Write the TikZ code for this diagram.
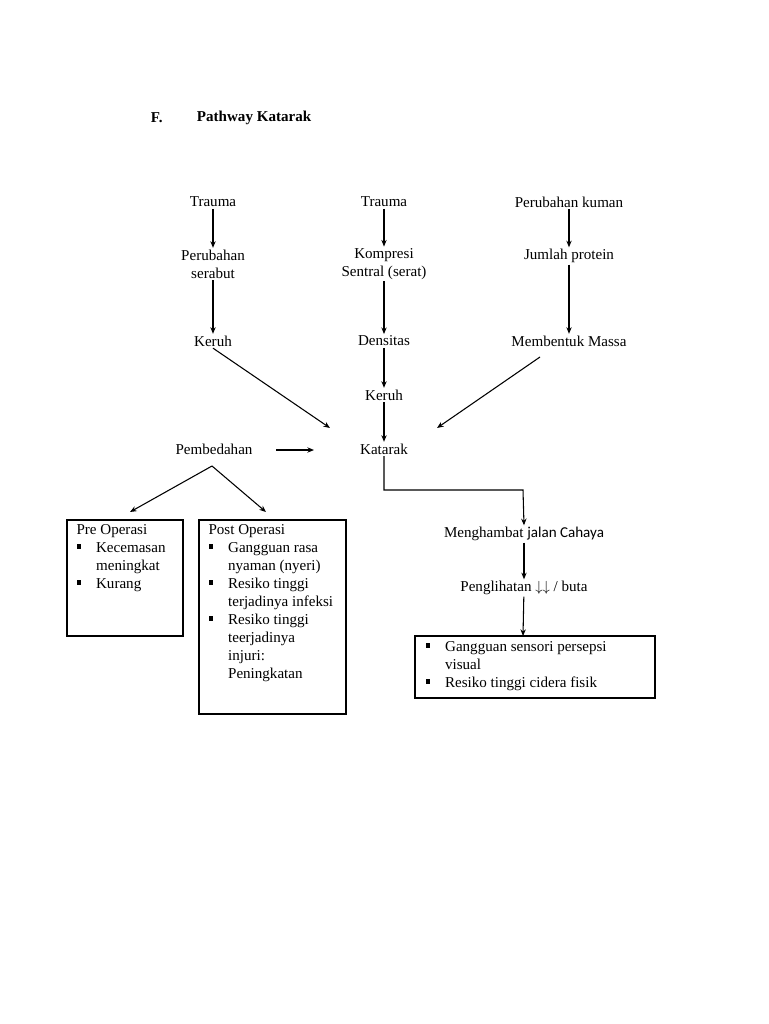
\documentclass[tikz,border=0pt]{standalone}
\usepackage{fontspec}
\setmainfont{Liberation Serif}
\newfontfamily\calib{Carlito}
\usetikzlibrary{arrows.meta}
\newcommand{\bul}{\makebox[1.3em][l]{\rule[0.25em]{3.2pt}{3.2pt}}}
\newcommand{\ind}{\hspace*{1.3em}}
\begin{document}
\begin{tikzpicture}[x=0.75pt,y=-0.75pt,font=\fontsize{11.3}{13.5}\selectfont]
\tikzstyle{every path}=[thick]
\tikzstyle{lbl}=[align=center,inner sep=1pt]
\tikzstyle{arr}=[-{Stealth[length=5pt,width=4pt]}]
\tikzstyle{box}=[draw,thick]
\tikzstyle{boxtext}=[anchor=north west,align=left,inner sep=0pt]
\useasboundingbox (0,0) rectangle (768,1024);
%% Title
\node [anchor=west,font=\fontsize{11.3}{13.5}\bfseries] (ftitle) at (146,118) {F.};
\node [anchor=west,font=\fontsize{11.3}{13.5}\bfseries] (title) at (192,118) {Pathway Katarak};
%% Top rows
\node [lbl] (trauma1) at (213,202) {Trauma};
\node [lbl] (trauma2) at (384,202) {Trauma};
\node [lbl] (kuman) at (569,202) {Perubahan kuman};
\node [lbl] (serabut) at (213,264) {Perubahan\\serabut};
\node [lbl] (kompresi) at (384,264) {Kompresi\\Sentral (serat)};
\node [lbl] (protein) at (569,256) {Jumlah protein};
\node [lbl] (keruh1) at (213,341) {Keruh};
\node [lbl] (densitas) at (384,341) {Densitas};
\node [lbl] (massa) at (569,341) {Membentuk Massa};
\node [lbl] (keruh2) at (384,395) {Keruh};
\node [lbl] (katarak) at (384,449) {Katarak};
\node [lbl] (bedah) at (214,449) {Pembedahan};
\node [lbl] (hambat) at (524,534) {Menghambat {\calib jalan Cahaya}};
\node [lbl] (lihat) at (524,588) {Penglihatan $\downarrow\downarrow$ / buta};
%% Boxes
\draw [box] (67,520) rectangle (183,636);
\coordinate (pre) at (130,512);
\node [boxtext] (pretext) at (76,524) {Pre Operasi\\ \bul Kecemasan\\ \ind meningkat\\ \bul Kurang};
\draw [box] (199,520) rectangle (346,714);
\coordinate (post) at (266,512);
\node [boxtext] (posttext) at (208,524) {Post Operasi\\ \bul Gangguan rasa\\ \ind nyaman (nyeri)\\ \bul Resiko tinggi\\ \ind terjadinya infeksi\\ \bul Resiko tinggi\\ \ind teerjadinya\\ \ind injuri:\\ \ind Peningkatan};
\draw [box] (415,636) rectangle (655,698);
\coordinate (sensori) at (523,636);
\node [boxtext] (sensoritext) at (425,641) {\bul Gangguan sensori persepsi\\ \ind visual\\ \bul Resiko tinggi cidera fisik};
%% Arrows
\draw [arr] (trauma1) -- (serabut);
\draw [arr] (trauma2) -- (kompresi);
\draw [arr] (kuman) -- (protein);
\draw [arr] (serabut) -- (keruh1);
\draw [arr] (kompresi) -- (densitas);
\draw [arr] (protein) -- (massa);
\draw [arr] (densitas) -- (keruh2);
\draw [arr] (keruh2) -- (katarak);
\draw [arr] (keruh1.south) -- (330,428);
\draw [arr] (540,357) -- (437,428);
\draw [arr] (276,450) -- (314,450);
\draw [arr] (212,466) -- (pre);
\draw [arr] (212,466) -- (post);
\draw [arr] (katarak.south) -- (384,490) -- (523,490) -- (hambat.north);
\draw [arr] (hambat) -- (lihat);
\draw [arr] (lihat) -- (sensori);
\end{tikzpicture}
\end{document}
